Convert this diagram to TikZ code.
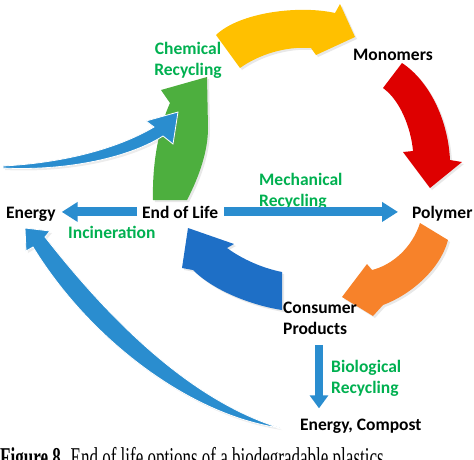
\documentclass[tikz,border=0pt]{standalone}
\usepackage{fontspec}
\usepackage{graphicx}
\setmainfont{Carlito}
\newfontfamily\capfont{Liberation Serif}
\usetikzlibrary{arrows.meta,shadows}
\definecolor{lblgreen}{HTML}{00B050}
\definecolor{cyel}{HTML}{FFC000}
\definecolor{cred}{HTML}{DE0000}
\definecolor{corange}{HTML}{F7822A}
\definecolor{cdblue}{HTML}{1E6FC6}
\definecolor{cgreen}{HTML}{4DAF3E}
\definecolor{clblue}{HTML}{2A8DCF}
\begin{document}
\begin{tikzpicture}[x=1pt,y=-1pt,
  lbl/.style={font=\fontsize{17.5}{21}\selectfont\bfseries, inner sep=0pt, anchor=base west, align=left},
  glbl/.style={lbl, text=lblgreen},
  flat/.style={line width=9pt, draw=clblue, -{Triangle[length=16pt,width=19pt]}},
  block/.style={draw=none, drop shadow={opacity=0.18, shadow xshift=2pt, shadow yshift=-2pt}},
  thinblk/.style={draw=white, line width=0.8pt, drop shadow={opacity=0.15, shadow xshift=2pt, shadow yshift=-2pt}},
]
\useasboundingbox (0,0) rectangle (474,459);

% curved block arrows of the cycle
\path[block, fill=cyel] (240,68) -- (216,35) .. controls (240,12) and (300,5) .. (335,13)
  -- (340,4) -- (355,37) -- (316,55) -- (311,48)
  .. controls (285,46) and (258,55) .. (240,68) -- cycle;
\path[block, fill=cred] (383,88) -- (402,63) .. controls (428,80) and (448,118) .. (450,160)
  -- (462,162) -- (430,188) -- (403,152) -- (413,151)
  .. controls (411,128) and (400,100) .. (383,88) -- cycle;
\path[block, fill=corange] (420,223) -- (448,240) .. controls (440,270) and (410,295) .. (383,305)
  -- (373,316) -- (342,297) -- (367,264) -- (372,270)
  .. controls (392,265) and (412,248) .. (420,223) -- cycle;
\path[block, fill=cdblue] (282,272) -- (282,310) .. controls (255,306) and (215,292) .. (193,270)
  -- (182,268) -- (188,228) -- (234,244) -- (227,248)
  .. controls (242,259) and (262,268) .. (282,272) -- cycle;
\path[block, fill=cgreen] (153,200) -- (187,200) .. controls (200,175) and (208,150) .. (208,128)
  -- (207,77) -- (161,90) -- (170,103)
  .. controls (160,125) and (152,160) .. (153,200) -- cycle;

% thin light blue curved arrows
\path[thinblk, fill=clblue] (3,166) .. controls (60,163) and (115,150) .. (154,127)
  -- (146,121) -- (178,112) -- (173,144) -- (163,136)
  .. controls (125,160) and (60,171) .. (3,168) -- cycle;
\path[thinblk, fill=clblue] (45,237) .. controls (110,320) and (190,400) .. (280,428)
  .. controls (190,415) and (90,340) .. (33,247) -- (26,251) -- (25,228) -- (50,231) -- cycle;

% labels (last-line baselines)
\node[lbl] (energy) at (6,218) {Energy};
\node[lbl] (eol) at (142,218) {End of Life};
\node[lbl] (poly) at (412,218) {Polymer};
\node[lbl] (mono) at (353,60) {Monomers};
\node[lbl] (cp) at (283,334) {Consumer\\Products};
\node[lbl] (ec) at (300,430) {Energy, Compost};
\node[glbl, align=center, anchor=base] (chem) at (188,75) {Chemical\\Recycling};
\node[glbl] (mech) at (259,206) {Mechanical\\Recycling};
\node[glbl] (inc) at (68,238) {Incineration};
\node[glbl] (bio) at (331,393) {Biological\\Recycling};

% straight connectors
\draw[flat, shorten <=5pt, shorten >=6pt] (eol.west) -- (eol.west -| energy.east);
\draw[flat, shorten <=6pt, shorten >=14pt] (eol.east) -- (eol.east -| poly.west);
\coordinate (bx) at (319,0);
\draw[flat, line width=8pt, -{Triangle[length=13pt,width=18pt]}, shorten <=11pt, shorten >=10pt]
  (cp.south -| bx) -- (ec.north -| bx);

% caption, cut by the lower edge as in the reference
\begin{scope}
\clip (0,0) rectangle (474,459);
\node[font=\capfont\fontsize{17}{20}\selectfont, inner sep=0pt, anchor=base west] (cap) at (0,466)
  {\scalebox{1}[1.6]{\textbf{Figure 8.} End of life options of a biodegradable plastics}};
\end{scope}
\end{tikzpicture}
\end{document}
